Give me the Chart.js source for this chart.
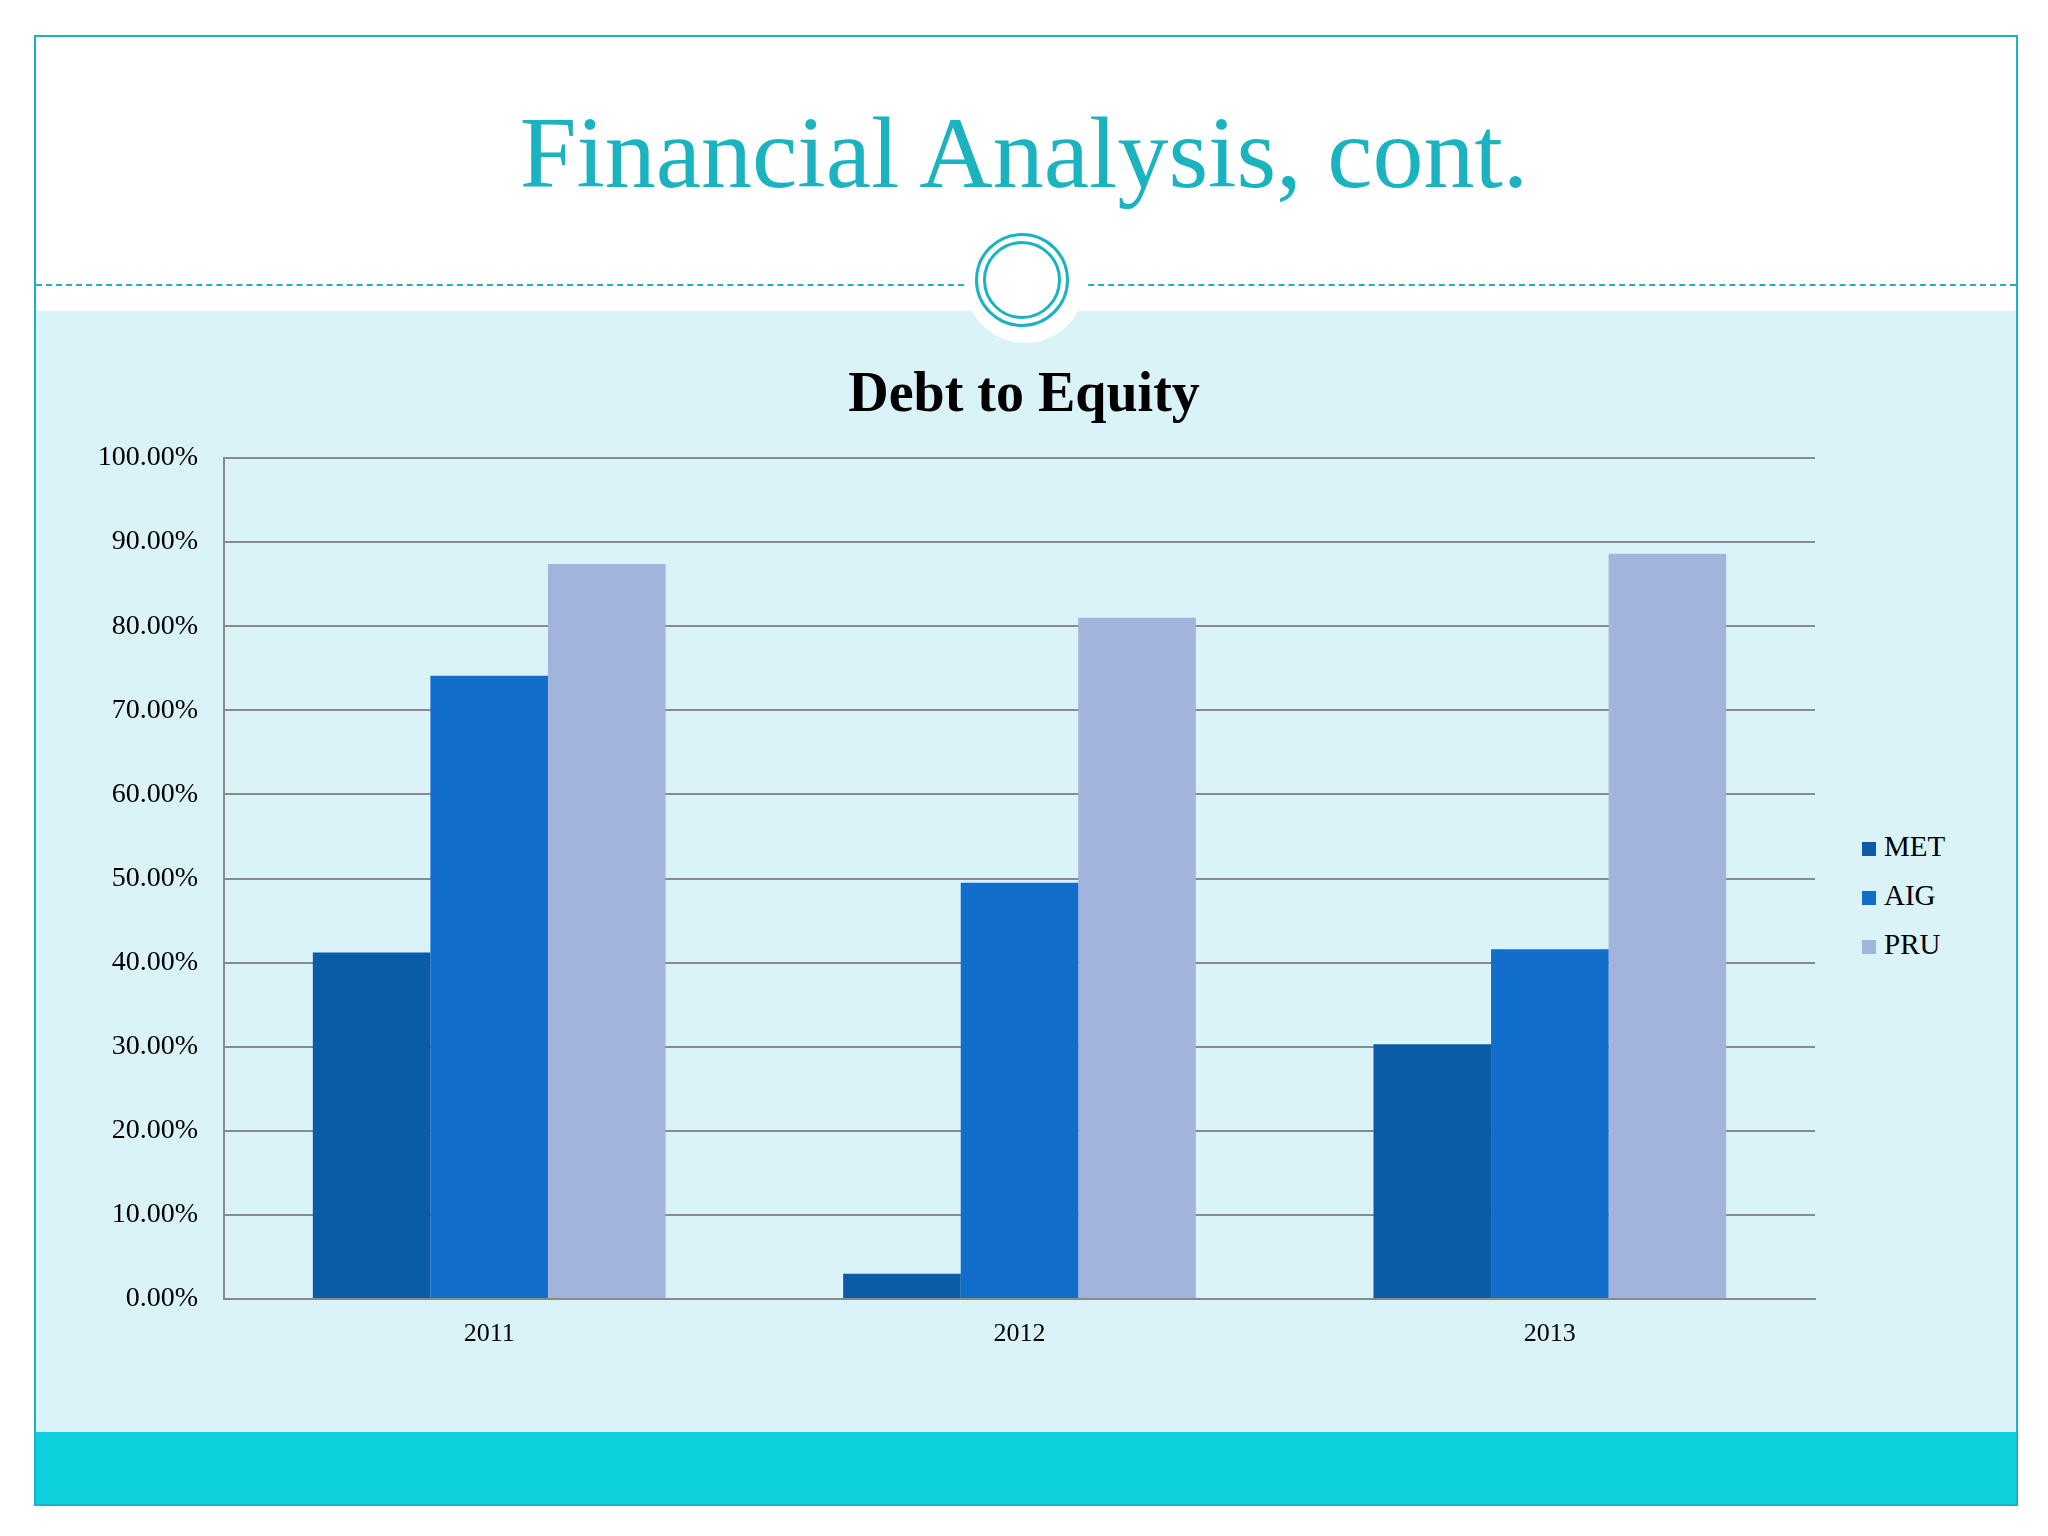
<!DOCTYPE html>
<html><head><meta charset="utf-8">
<script src="https://cdn.jsdelivr.net/npm/chart.js@4"></script>
<style>
body{margin:0;width:2048px;height:1536px;background:#fff;position:relative;overflow:hidden;font-family:"Liberation Serif",serif}
#frame{position:absolute;left:34px;top:35px;width:1980px;height:1467px;border:2px solid #1ab3bf}
#blue{position:absolute;left:36px;top:311px;width:1980px;height:1121px;background:#daf3f9}
#band{position:absolute;left:36px;top:1432px;width:1980px;height:72px;background:#0cd0db}
#dash{position:absolute;left:36px;top:284px;width:1980px;border-top:2px dashed #1ab3bf}
#circW{position:absolute;left:965px;top:223px;width:120px;height:120px;border-radius:50%;background:#fff}
#circ{position:absolute;left:975px;top:233px;width:94px;height:94px;border-radius:50%;border:3px solid #1ab3bf;box-sizing:border-box}
#circ2{position:absolute;left:983px;top:241px;width:78px;height:78px;border-radius:50%;border:3px solid #1ab3bf;box-sizing:border-box}
#title{position:absolute;left:0;width:2048px;top:98px;text-align:center;color:#1ab3bf;font-size:102px;line-height:110px}
#ctitle{position:absolute;left:0;width:2048px;top:362px;text-align:center;color:#000;font-size:56px;font-weight:bold;line-height:60px}
#cw{position:absolute;left:60px;top:340px;width:1780px;height:1060px}
#legend{position:absolute;left:1862px;top:822px;font-size:29px;line-height:49px}
#legend span.b{display:inline-block;width:14px;height:14px;margin-right:8px}
</style></head><body>
<div id="frame"></div><div id="blue"></div><div id="band"></div><div id="dash"></div>
<div id="circW"></div><div id="circ"></div><div id="circ2"></div>
<div id="title">Financial Analysis, cont.</div>
<div id="ctitle">Debt to Equity</div>
<div id="cw"><canvas id="c"></canvas></div>
<div id="legend"></div>
<script>
const categories=["2011","2012","2013"];
const seriesNames=["MET","AIG","PRU"];
const MET=[41.2,3.0,30.3];
const AIG=[74.1,49.5,41.6];
const PRU=[87.4,81.0,88.6];
const colors=["#0b5ca6","#116ecb","#a2b4dc"];
const vals=[MET,AIG,PRU];
document.getElementById('legend').innerHTML=seriesNames.map((n,i)=>`<div><span class="b" style="background:${colors[i]}"></span>${n}</div>`).join('');
new Chart(document.getElementById('c'),{type:'bar',
data:{labels:categories,datasets:seriesNames.map((n,i)=>({label:n,data:vals[i],backgroundColor:colors[i],barPercentage:1,categoryPercentage:0.665}))},
options:{responsive:true,maintainAspectRatio:false,animation:false,
layout:{padding:{left:0,right:25,top:118,bottom:0}},
plugins:{legend:{display:false},tooltip:{enabled:false}},
scales:{
y:{min:0,max:100,ticks:{stepSize:10,color:'#000',font:{family:'Liberation Serif',size:28},padding:26,callback:v=>v.toFixed(2)+'%'},
grid:{color:'#8a8a8a',lineWidth:2,drawTicks:false},border:{color:'#8a8a8a',width:2},afterFit:a=>{a.width=164}},
x:{ticks:{color:'#000',font:{family:'Liberation Serif',size:26},padding:12},grid:{display:false},border:{color:'#8a8a8a',width:2},afterFit:a=>{a.height=101}}
}}});
</script></body></html>
